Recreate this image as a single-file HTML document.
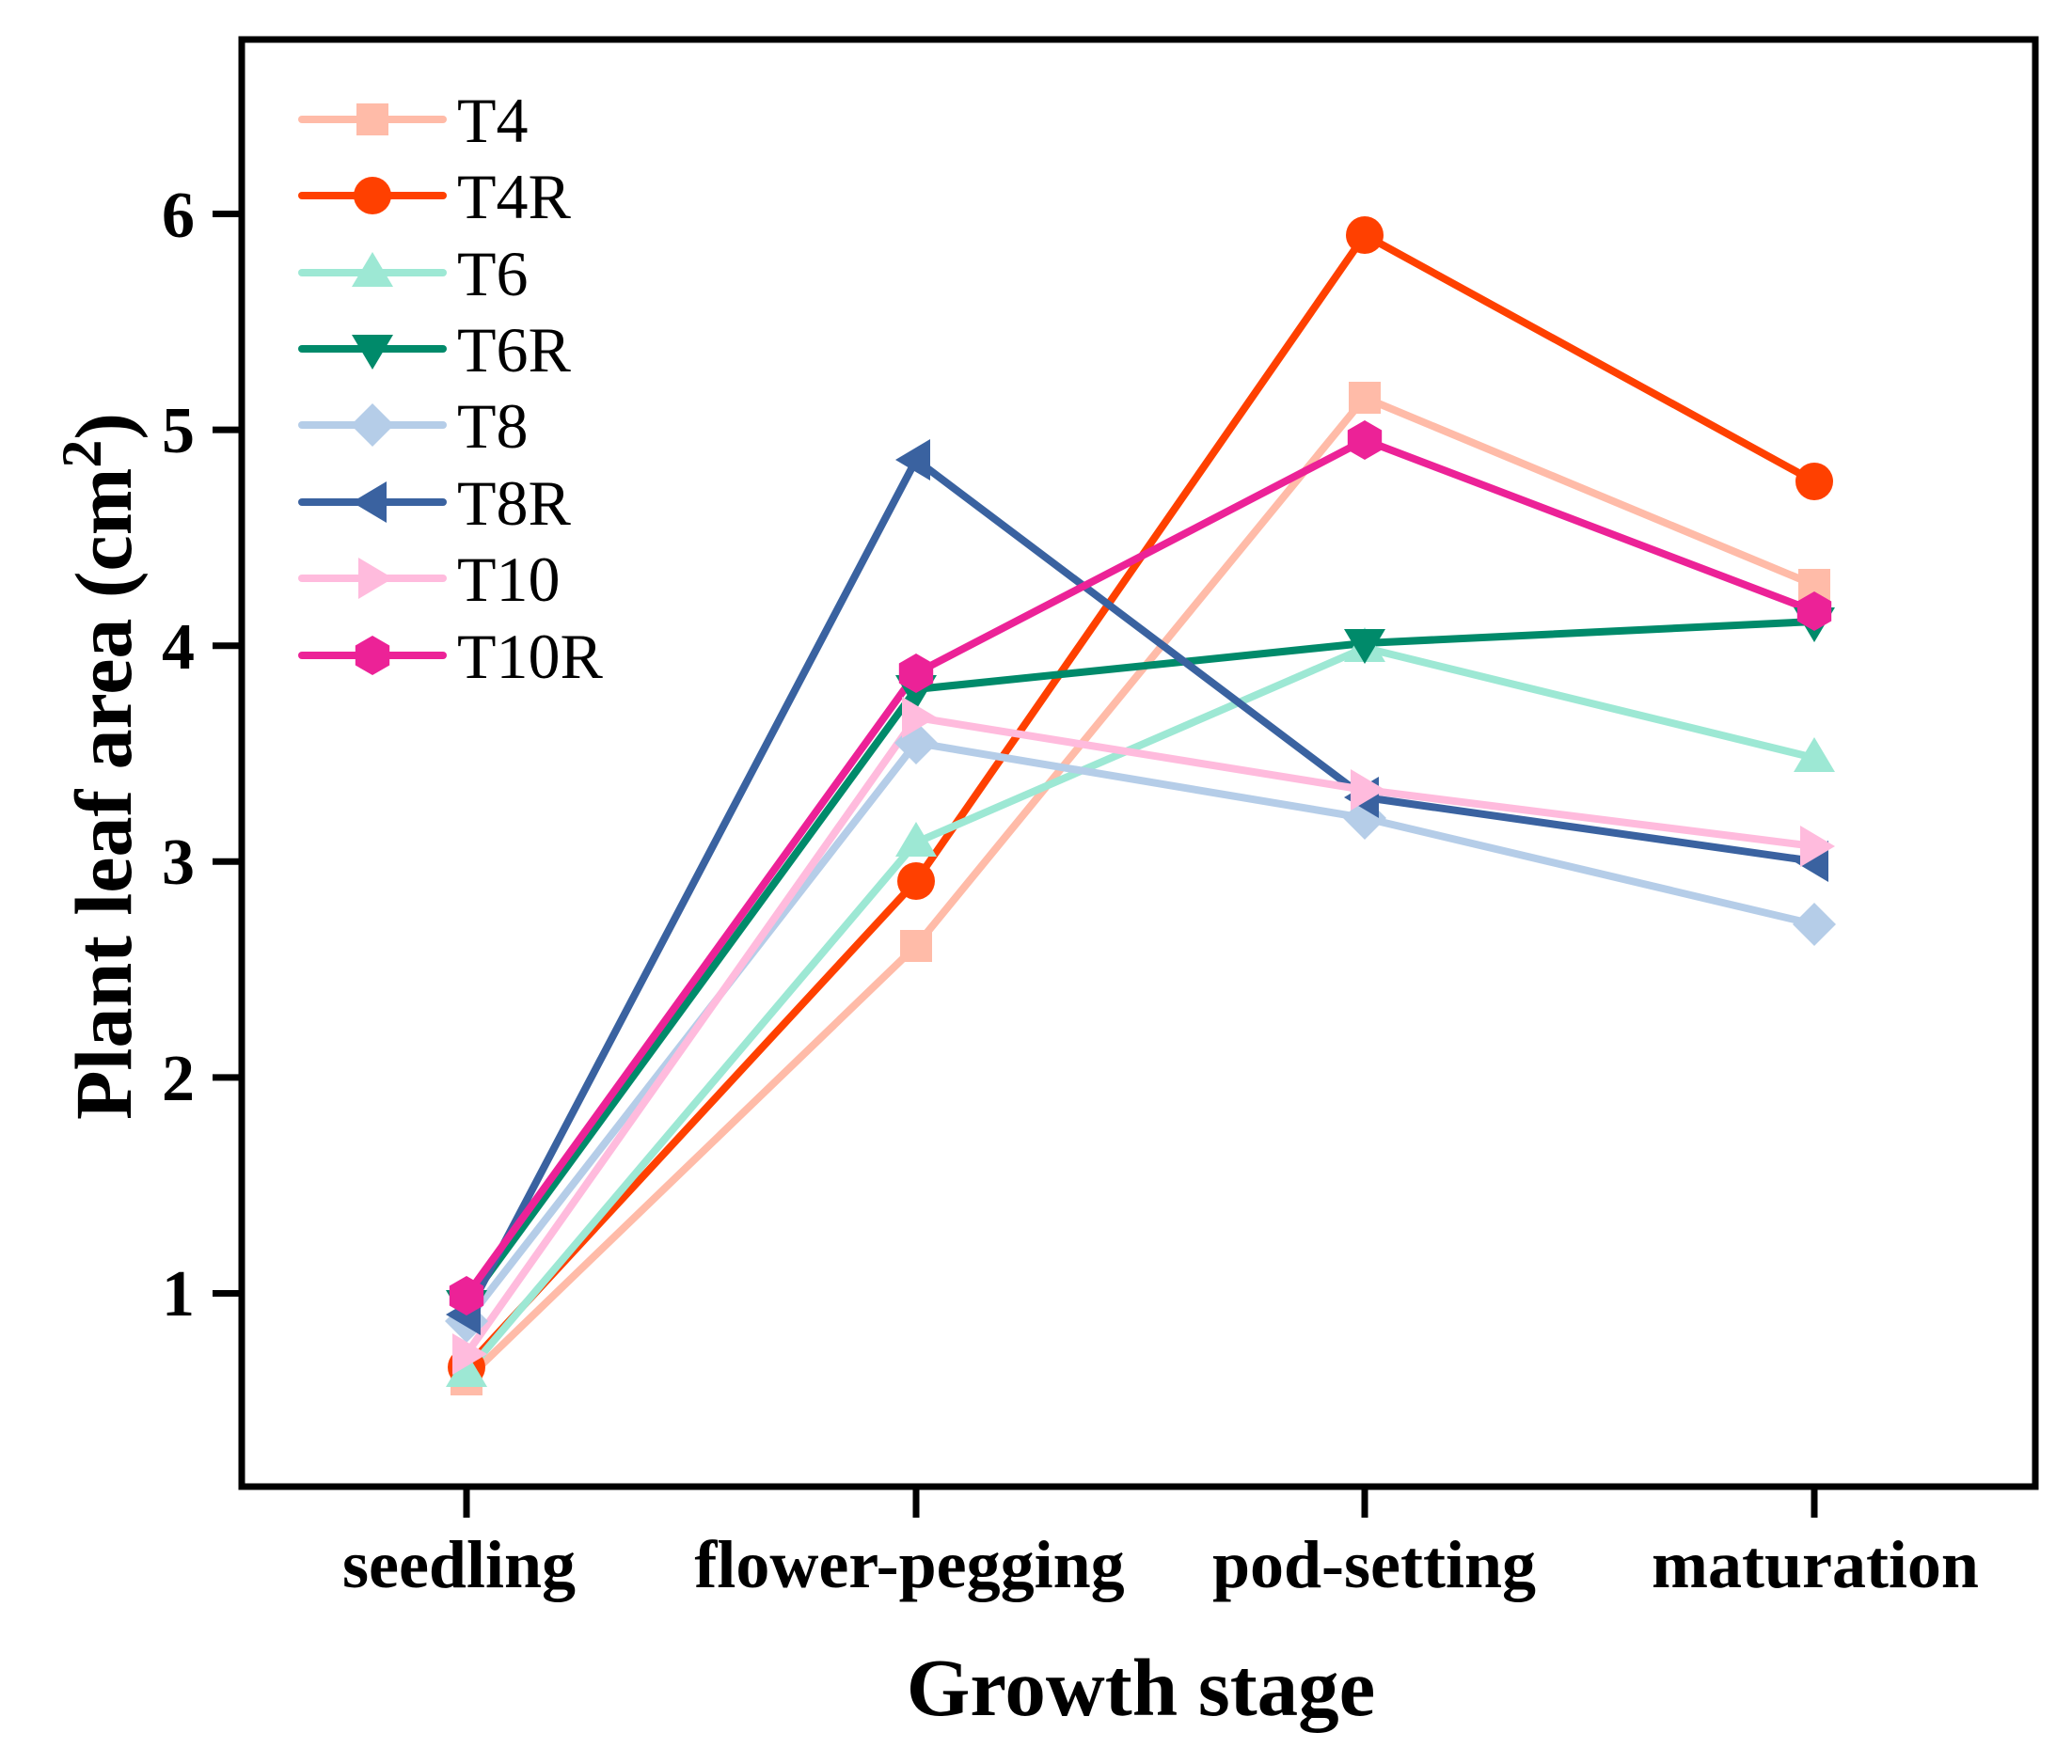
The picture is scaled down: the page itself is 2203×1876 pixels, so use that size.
<!DOCTYPE html>
<html><head><meta charset="utf-8"><style>
html,body{margin:0;padding:0;background:#fff}
svg{display:block}
text{font-family:"Liberation Serif",serif}
</style></head><body>
<svg id="s" width="2203" height="1876" viewBox="0 0 2203 1876" xmlns="http://www.w3.org/2000/svg">
<defs>
<clipPath id="c"><rect x="257" y="42" width="1907" height="1539"/></clipPath>
</defs>
<rect width="2203" height="1876" fill="#fff"/>
<g stroke="#000" stroke-width="7">
<line x1="226" y1="1375.5" x2="257" y2="1375.5"/>
<line x1="226" y1="1145.9" x2="257" y2="1145.9"/>
<line x1="226" y1="916.3" x2="257" y2="916.3"/>
<line x1="226" y1="686.7" x2="257" y2="686.7"/>
<line x1="226" y1="457.1" x2="257" y2="457.1"/>
<line x1="226" y1="227.5" x2="257" y2="227.5"/>
<line x1="496" y1="1581" x2="496" y2="1614"/>
<line x1="974" y1="1581" x2="974" y2="1614"/>
<line x1="1451" y1="1581" x2="1451" y2="1614"/>
<line x1="1929" y1="1581" x2="1929" y2="1614"/>
</g>
<g font-size="70" font-weight="bold" text-anchor="end" font-family="Liberation Serif, serif">
<text x="207" y="1399">1</text>
<text x="207" y="1170">2</text>
<text x="207" y="940">3</text>
<text x="207" y="711">4</text>
<text x="207" y="481">5</text>
<text x="207" y="252">6</text>
</g>
<g font-size="72" font-weight="bold" text-anchor="middle" font-family="Liberation Serif, serif">
<text x="488" y="1688">seedling</text>
<text x="967" y="1688">flower-pegging</text>
<text x="1461" y="1688">pod-setting</text>
<text x="1930" y="1688">maturation</text>
</g>
<text x="1213" y="1824" font-size="87" font-weight="bold" text-anchor="middle" font-family="Liberation Serif, serif">Growth stage</text>
<text transform="translate(139,815) rotate(-90)" font-size="86" font-weight="bold" text-anchor="middle" font-family="Liberation Serif, serif">Plant leaf area (cm<tspan font-size="60" dy="-32">2</tspan><tspan dy="32">)</tspan></text>

<g clip-path="url(#c)" stroke-width="8" fill="none" stroke-linejoin="round">
<polyline stroke="#FFBBA8" points="496,1467 974,1006 1451,423 1929,622"/>
<polyline stroke="#FF4000" points="496,1454 974,937 1451,250 1929,512"/>
<polyline stroke="#9DE8D4" points="496,1460 974,896 1451,689 1929,806"/>
<polyline stroke="#008A6A" points="496,1387 974,733 1451,684 1929,661"/>
<polyline stroke="#B5CDE8" points="496,1405 974,790 1451,870 1929,983"/>
<polyline stroke="#3A62A0" points="496,1398 974,489 1451,848 1929,916"/>
<polyline stroke="#FFBBDD" points="496,1440 974,763 1451,840 1929,900"/>
<polyline stroke="#EC2297" points="496,1378 974,716 1451,468 1929,650"/>
</g>
<g id="m"></g>
<g stroke-width="8" stroke-linecap="round">
<line x1="321" y1="127" x2="471" y2="127" stroke="#FFBBA8"/>
<line x1="321" y1="208" x2="471" y2="208" stroke="#FF4000"/>
<line x1="321" y1="290" x2="471" y2="290" stroke="#9DE8D4"/>
<line x1="321" y1="371" x2="471" y2="371" stroke="#008A6A"/>
<line x1="321" y1="452" x2="471" y2="452" stroke="#B5CDE8"/>
<line x1="321" y1="534" x2="471" y2="534" stroke="#3A62A0"/>
<line x1="321" y1="615" x2="471" y2="615" stroke="#FFBBDD"/>
<line x1="321" y1="697" x2="471" y2="697" stroke="#EC2297"/>
</g>
<g id="lm"></g>
<g font-size="68" font-family="Liberation Serif, serif">
<text x="486" y="151">T4</text>
<text x="486" y="232">T4R</text>
<text x="486" y="314">T6</text>
<text x="486" y="395">T6R</text>
<text x="486" y="476">T8</text>
<text x="486" y="558">T8R</text>
<text x="486" y="639">T10</text>
<text x="486" y="721">T10R</text>
</g>
<rect x="257" y="42" width="1907" height="1539" fill="none" stroke="#000" stroke-width="7"/>
</svg>
<script>
(function(){
var NS="http://www.w3.org/2000/svg";
function shape(t,x,y,col){
  var e;
  if(t=="sq"){e=document.createElementNS(NS,"rect");e.setAttribute("x",x-17);e.setAttribute("y",y-17);e.setAttribute("width",34);e.setAttribute("height",34);}
  else if(t=="ci"){e=document.createElementNS(NS,"circle");e.setAttribute("cx",x);e.setAttribute("cy",y);e.setAttribute("r",20);}
  else{
    var p;
    if(t=="up")p=[[x,y-22],[x+22,y+15],[x-22,y+15]];
    else if(t=="dn")p=[[x-22,y-15],[x+22,y-15],[x,y+22]];
    else if(t=="di")p=[[x,y-23],[x+23,y],[x,y+23],[x-23,y]];
    else if(t=="lt")p=[[x-22,y],[x+15,y-22],[x+15,y+22]];
    else if(t=="rt")p=[[x+22,y],[x-15,y-22],[x-15,y+22]];
    else {p=[];for(var i=0;i<6;i++){var a=Math.PI/2+i*Math.PI/3;p.push([x+21*Math.cos(a),y-21*Math.sin(a)]);}}
    e=document.createElementNS(NS,"polygon");e.setAttribute("points",p.map(function(q){return q.join(",")}).join(" "));
  }
  e.setAttribute("fill",col);return e;
}
var X=[496,974,1451,1929];
var S=[["sq","#FFBBA8",[1467,1006,423,622]],["ci","#FF4000",[1454,937,250,512]],["up","#9DE8D4",[1460,896,689,806]],["dn","#008A6A",[1387,733,684,661]],["di","#B5CDE8",[1405,790,870,983]],["lt","#3A62A0",[1398,489,848,916]],["rt","#FFBBDD",[1440,763,840,900]],["hx","#EC2297",[1378,716,468,650]]];
var g=document.getElementById("m");
S.forEach(function(s){s[2].forEach(function(y,i){g.appendChild(shape(s[0],X[i],y,s[1]));});});
var L=[["sq","#FFBBA8",127],["ci","#FF4000",208],["up","#9DE8D4",290],["dn","#008A6A",371],["di","#B5CDE8",452],["lt","#3A62A0",534],["rt","#FFBBDD",615],["hx","#EC2297",697]];
var lg=document.getElementById("lm");
L.forEach(function(s){lg.appendChild(shape(s[0],396,s[2],s[1]));});
})();
</script>
</body></html>
